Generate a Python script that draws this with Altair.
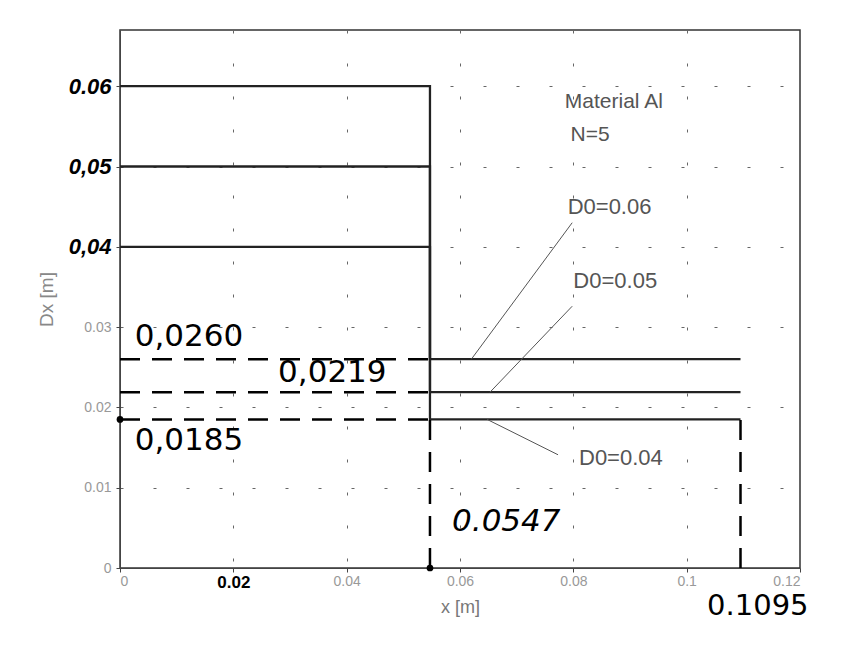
import altair as alt
import pandas as pd

# ---- data ----
series_names = ["D0=0.06", "D0=0.05", "D0=0.04"]
d0_values = [0.06, 0.05, 0.04]          # Dx before the step
dx_after = [0.0260, 0.0219, 0.0185]     # Dx after the step
x_step = 0.0547
x_end = 0.1095
x_ticks = [0, 0.02, 0.04, 0.06, 0.08, 0.10, 0.12]
y_ticks = [0, 0.01, 0.02, 0.03, 0.04, 0.05, 0.06]

# printed annotations (text, x, y)
info_text = ["Material Al", "N=5"]
info_x = [0.0785, 0.0795]
info_y = [0.0580, 0.0539]
label_x = [0.0790, 0.0800, 0.0810]
label_y = [0.0450, 0.0357, 0.0137]
leader_x1 = [0.0620, 0.0653, 0.0648]
leader_x2 = [0.0798, 0.0798, 0.0773]
leader_y2 = [0.0430, 0.0326, 0.0141]

# handwritten annotations
hand_text = ["0,0260", "0,0219", "0,0185"]
hand_x = [0.0026, 0.0279, 0.0026]
hand_y = [0.0288, 0.0243, 0.0158]

# ---- tables ----
rows = []
for name, a, b in zip(series_names, d0_values, dx_after):
    for i, (xx, yy) in enumerate([(0, a), (x_step, a), (x_step, b), (x_end, b)]):
        rows.append({"series": name, "x": xx, "y": yy, "o": i})
lines_df = pd.DataFrame(rows)

dash_rows = [{"x": 0, "x2": x_step, "y": v, "y2": v} for v in dx_after]
dash_rows.append({"x": x_step, "x2": x_step, "y": 0, "y2": min(dx_after)})
dash_rows.append({"x": x_end, "x2": x_end, "y": 0, "y2": min(dx_after)})
dash_df = pd.DataFrame(dash_rows)

dots_df = pd.DataFrame({"x": [0, x_step], "y": [min(dx_after), 0]})

leader_df = pd.DataFrame({"x": leader_x1, "y": dx_after,
                          "x2": leader_x2, "y2": leader_y2})
labels_df = pd.DataFrame({"x": label_x, "y": label_y, "t": series_names})
info_df = pd.DataFrame({"x": info_x, "y": info_y, "t": info_text})
hand_df = pd.DataFrame({"x": hand_x, "y": hand_y, "t": hand_text})
hand2_df = pd.DataFrame({"x": [0.0586], "y": [0.0057], "t": ["0.0547"]})
hand3_df = pd.DataFrame({"x": [0.1036], "y": [-0.0047], "t": ["0.1095"]})

xs = alt.Scale(domain=[0, 0.12], nice=False, zero=False)
ys = alt.Scale(domain=[0, 0.067], nice=False, zero=False)

x_axis = alt.Axis(
    values=x_ticks, format="~g", title="x [m]",
    titleColor="#777", titleFontWeight="normal", titleFontSize=18,
    titleFont="Liberation Sans", titlePadding=8,
    labelFont="Liberation Sans", labelPadding=2,
    labelColor=alt.condition("datum.value == 0.02", alt.value("#000"), alt.value("#999")),
    labelFontWeight=alt.condition("datum.value == 0.02", alt.value("bold"), alt.value("normal")),
    labelFontSize=alt.condition("datum.value == 0.02", alt.value(17), alt.value(14)),
    domainColor="#444", tickColor="#444", tickSize=4,
    grid=True, gridColor="#666", gridDash=[3, 30], gridWidth=1,
)
y_axis = alt.Axis(
    values=y_ticks, title="Dx [m]",
    labelExpr="datum.value == 0.05 ? '0,05' : datum.value == 0.04 ? '0,04' : format(datum.value, '~g')",
    titleColor="#888", titleFontWeight="normal", titleFontSize=19,
    titleFont="Liberation Sans", titlePadding=12,
    labelFont="Liberation Sans", labelPadding=5,
    labelColor=alt.condition("datum.value >= 0.035", alt.value("#000"), alt.value("#999")),
    labelFontWeight=alt.condition("datum.value >= 0.035", alt.value("bold"), alt.value("normal")),
    labelFontStyle=alt.condition("datum.value >= 0.035", alt.value("italic"), alt.value("normal")),
    labelFontSize=alt.condition("datum.value >= 0.035", alt.value(22), alt.value(14)),
    domainColor="#444", tickColor="#444", tickSize=4,
    grid=True, gridColor="#666", gridDash=[3, 30], gridWidth=1,
)

lines = alt.Chart(lines_df).mark_line(color="#222", strokeWidth=2.3).encode(
    x=alt.X("x:Q", scale=xs, axis=x_axis),
    y=alt.Y("y:Q", scale=ys, axis=y_axis),
    detail="series:N",
    order="o:Q",
)

dashes = alt.Chart(dash_df).mark_rule(color="#000", strokeWidth=2.5, strokeDash=[20, 12]).encode(
    x=alt.X("x:Q", scale=xs), x2="x2:Q", y=alt.Y("y:Q", scale=ys), y2="y2:Q"
)
dots = alt.Chart(dots_df).mark_point(filled=True, color="#000", size=45, opacity=1).encode(
    x=alt.X("x:Q", scale=xs), y=alt.Y("y:Q", scale=ys)
)
leaders = alt.Chart(leader_df).mark_rule(color="#555", strokeWidth=1).encode(
    x=alt.X("x:Q", scale=xs), x2="x2:Q", y=alt.Y("y:Q", scale=ys), y2="y2:Q"
)
labels = alt.Chart(labels_df).mark_text(
    align="left", baseline="middle", font="Liberation Sans", fontSize=22, color="#555"
).encode(x=alt.X("x:Q", scale=xs), y=alt.Y("y:Q", scale=ys), text="t:N")
info = alt.Chart(info_df).mark_text(
    align="left", baseline="middle", font="Liberation Sans", fontSize=21, color="#555"
).encode(x=alt.X("x:Q", scale=xs), y=alt.Y("y:Q", scale=ys), text="t:N")
hand = alt.Chart(hand_df).mark_text(
    align="left", baseline="middle", font="DejaVu Sans", fontSize=31, color="#000"
).encode(x=alt.X("x:Q", scale=xs), y=alt.Y("y:Q", scale=ys), text="t:N")
hand2 = alt.Chart(hand2_df).mark_text(
    align="left", baseline="middle", font="DejaVu Sans", fontSize=31,
    fontStyle="italic", color="#000"
).encode(x=alt.X("x:Q", scale=xs), y=alt.Y("y:Q", scale=ys), text="t:N")
hand3 = alt.Chart(hand3_df).mark_text(
    align="left", baseline="middle", font="DejaVu Sans", fontSize=29, color="#000"
).encode(x=alt.X("x:Q", scale=xs), y=alt.Y("y:Q", scale=ys), text="t:N")

chart = alt.layer(lines, dashes, dots, leaders, labels, info, hand, hand2, hand3).properties(
    width=680, height=538,
    padding={"left": 112, "top": 22, "right": 30, "bottom": 70},
    autosize=alt.AutoSizeParams(type="none"),
    background="white",
).configure_view(stroke="#333", strokeWidth=1.5)

chart.save("out.html", embed_options={"renderer": "svg", "actions": False})
